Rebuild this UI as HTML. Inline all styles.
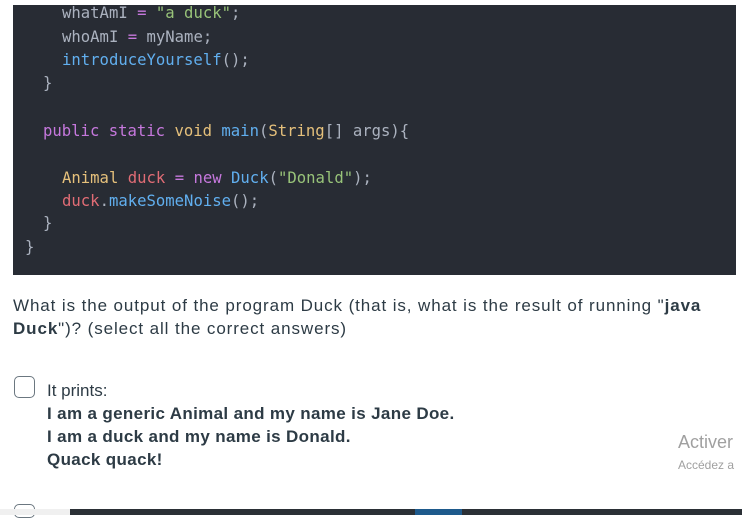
<!DOCTYPE html>
<html><head><meta charset="utf-8"><style>
body{margin:0;width:742px;height:515px;background:#fff;position:relative;overflow:hidden;font-family:"Liberation Sans",sans-serif;}
.code{position:absolute;left:13px;top:5px;width:723px;height:270px;background:#282c34;}
.l{position:absolute;font-family:"DejaVu Sans Mono","Liberation Mono",monospace;font-size:15.6px;color:#abb2bf;white-space:pre;line-height:18px;}
.k{color:#c678dd}.t{color:#e5c07b}.f{color:#61afef}.s{color:#98c379}.v{color:#e06c75}
.q{position:absolute;left:13px;top:294px;font-size:17px;color:#2d3b45;line-height:23px;width:725px;letter-spacing:0.9px;}
.box{position:absolute;left:14px;top:376px;width:19px;height:20px;border:1px solid #6b7780;border-radius:5px;}
.a{position:absolute;left:47px;top:379px;font-size:17px;color:#2d3b45;line-height:23px;}
.a b{letter-spacing:0.35px}
.wm{position:absolute;left:678px;color:#a0a0a0;}
</style></head><body>
<div class="code">
<div class="l" style="left:49px;top:-1px">whatAmI <span class="k">=</span> <span class="s">"a duck"</span>;</div>
<div class="l" style="left:49px;top:23px">whoAmI <span class="k">=</span> myName;</div>
<div class="l" style="left:49px;top:46px"><span class="f">introduceYourself</span>();</div>
<div class="l" style="left:30px;top:69px">}</div>
<div class="l" style="left:30px;top:117px"><span class="k">public static</span> <span class="t">void</span> <span class="f">main</span>(<span class="t">String</span>[] args){</div>
<div class="l" style="left:49px;top:164px"><span class="t">Animal</span> <span class="v">duck</span> <span class="k">=</span> <span class="k">new</span> <span class="f">Duck</span>(<span class="s">"Donald"</span>);</div>
<div class="l" style="left:49px;top:187px"><span class="v">duck</span>.<span class="f">makeSomeNoise</span>();</div>
<div class="l" style="left:30px;top:209px">}</div>
<div class="l" style="left:12px;top:233px">}</div>
</div>
<div class="q">What is the output of the program Duck (that is, what is the result of running "<b>java Duck</b>")? (select all the correct answers)</div>
<div class="box"></div>
<div class="a">It prints:<br><b>I am a generic Animal and my name is Jane Doe.<br>I am a duck and my name is Donald.<br>Quack quack!</b></div>
<div class="wm" style="top:432px;font-size:18px">Activer</div>
<div class="wm" style="top:458px;font-size:12px">Accédez a</div>
<div style="position:absolute;left:14px;top:504px;width:19px;height:12px;border:1px solid #6b7780;border-radius:5px"></div>
<div style="position:absolute;left:0;top:509px;width:70px;height:6px;background:#f0f0f0"></div>
<div style="position:absolute;left:70px;top:509px;width:672px;height:6px;background:#2b3036"></div>
<div style="position:absolute;left:415px;top:509px;width:47px;height:6px;background:#1e5a8c"></div>
</body></html>
